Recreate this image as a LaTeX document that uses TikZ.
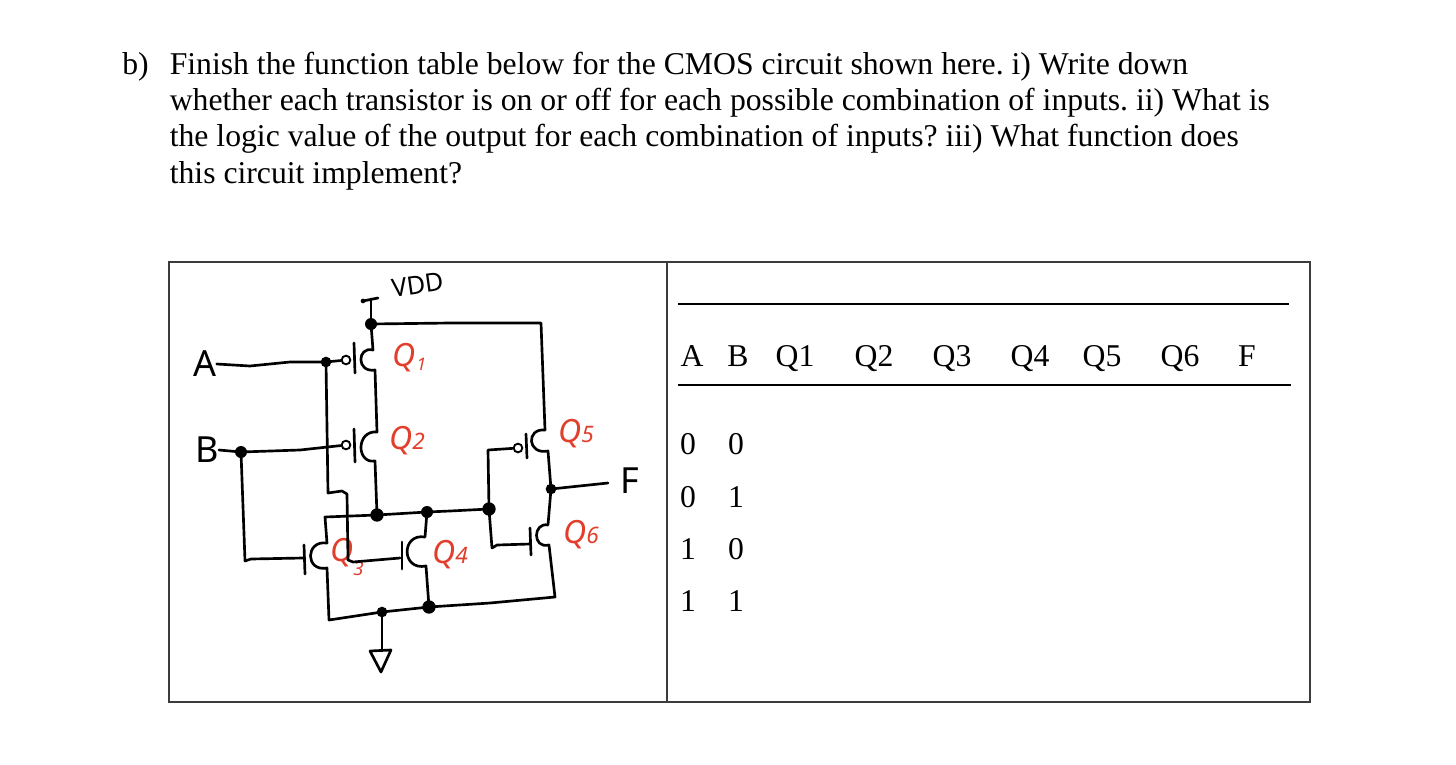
\documentclass[tikz,border=0pt]{standalone}
\usepackage{fontspec}
\setmainfont{Liberation Serif}
\newfontfamily\handfont{Noto Sans}
\definecolor{qred}{RGB}{226,62,44}
\definecolor{boxline}{RGB}{60,60,60}
\frenchspacing
\begin{document}
\begin{tikzpicture}[x=0.75pt,y=-0.75pt,>=stealth,
    wire/.style={line width=2pt,line join=round,line cap=round},
    gatebar/.style={line width=2pt,line cap=round},
    dot/.style={circle,fill=black,inner sep=0pt,minimum size=9.5pt},
    smalldot/.style={circle,fill=black,inner sep=0pt,minimum size=5pt},
    bubble/.style={circle,draw=black,line width=1.4pt,inner sep=0pt,minimum size=6.5pt},
    hand/.style={font=\handfont\fontsize{19}{21}\selectfont,inner sep=0pt},
    bighand/.style={font=\handfont\fontsize{27}{29}\selectfont,inner sep=0pt},
    qlabel/.style={font=\handfont\fontsize{24}{26}\selectfont\itshape,text=qred,inner sep=0pt},
    line/.style={anchor=base west,inner sep=0pt,font=\fontsize{23.78}{27}\selectfont},
    cell/.style={anchor=base,inner sep=0pt,font=\fontsize{23.78}{27}\selectfont}]
    \useasboundingbox (0,0) rectangle (1456,764);
    % question text
    \node[line] (qb) at (122,74) {b)};
    \node[line] (q1) at (169.5,74) {Finish the function table below for the CMOS circuit shown here. i) Write down};
    \node[line] (q2) at (169.5,110) {whether each transistor is on or off for each possible combination of inputs. ii) What is};
    \node[line] (q3) at (169.5,146) {the logic value of the output for each combination of inputs? iii) What function does};
    \node[line] (q4) at (169.5,183) {this circuit implement?};
    % table frame
    \draw[boxline,line width=0.8pt] (169,262) rectangle (1310,702);
    \draw[boxline,line width=0.8pt] (667,262) -- (667,702);
    \draw[line width=1.3pt] (678,304) -- (1289,304);
    \draw[line width=1.3pt] (678,385) -- (1291,385);
    \foreach \x/\t in {692/A,738/B,795/Q1,874/Q2,952/Q3,1030/Q4,1102/Q5,1180/Q6,1247/F}
        \node[cell] at (\x,366) {\t};
    \foreach \y/\a/\b in {454/0/0,507/0/1,559/1/0,611/1/1}
        {
            \node[cell] at (688,\y) {\a};
            \node[cell] at (736,\y) {\b};
        }
    % junctions
    \node[dot,minimum size=9pt] (nvdd) at (371,324) {};
    \node[dot,minimum size=8pt] (na) at (326,362) {};
    \node[dot,minimum size=9pt] (nb) at (241,452) {};
    \node[dot,minimum size=10pt] (nmid) at (377,515) {};
    \node[dot,minimum size=9pt] (ntop) at (427,512) {};
    \node[dot,minimum size=10pt] (nr) at (489,509) {};
    \node[dot,minimum size=8pt] (nout) at (551,489) {};
    \node[dot,minimum size=8pt] (ngnd) at (382,612) {};
    \node[dot,minimum size=10pt] (nbot) at (429,607) {};
    \node[bubble] (b1) at (346,360) {};
    \node[bubble] (b2) at (346,445) {};
    \node[bubble] (b5) at (518,448) {};
    % labels
    \node[hand,rotate=8] (vdd) at (418,285) {VDD};
    \node[bighand] (ina) at (205,364) {A};
    \node[bighand] (inb) at (207,450) {B};
    \node[bighand] (outf) at (630,481) {F};
    \node[qlabel,anchor=west] (lq1) at (392,358) {Q\kern1pt{\fontsize{13}{14}\selectfont\raisebox{-3pt}{1}}};
    \node[qlabel,anchor=west] (lq2) at (389,441) {Q{\fontsize{17}{18}\selectfont 2}};
    \node[qlabel,anchor=west] (lq3) at (330,557) {Q{\fontsize{14}{15}\selectfont\raisebox{-11pt}{3}}};
    \node[qlabel,anchor=west] (lq4) at (432,555) {Q{\fontsize{17}{18}\selectfont 4}};
    \node[qlabel,anchor=west] (lq5) at (558,434) {Q{\fontsize{17}{18}\selectfont 5}};
    \node[qlabel,anchor=west] (lq6) at (563,535) {Q{\fontsize{17}{18}\selectfont 6}};
    % supply
    \node[smalldot,minimum size=3.5pt] (tvdd) at (363,301) {};
    \draw[wire] (tvdd.center) -- (378,298);
    \draw[wire] (371,300) -- (nvdd.center);
    \draw[wire] (nvdd.center) -- (450,323) -- (541,323) -- (545,430);
    % pull-up left: Q1 and Q2
    \draw[wire] (nvdd.center) -- (373,350) .. controls (357,346) and (356,373) .. (375,370) -- (377,432)
        .. controls (356,430) and (356,464) .. (375,461) -- (nmid.center);
    \draw[gatebar] (354,343) -- (355,373);
    \draw[gatebar] (354,429) -- (355,462);
    \draw[wire] (ina.east) -- (250,366) -- (290,362) -- (na.center) -- (b1);
    \draw[wire] (inb.east) -- (nb.center) -- (300,450) -- (b2);
    % shared input wires
    \draw[wire] (na.center) -- (328,493) -- (342,491) -- (347,494) -- (348,560) -- (353,562) -- (400,558);
    \draw[wire] (nb.center) -- (245,561) -- (251,559) -- (303,558);
    % pull-down left: Q3 and Q4
    \draw[wire] (nr.center) -- (450,511) -- (ntop.center) -- (nmid.center) -- (325,517) -- (327,543)
        .. controls (305,540) and (305,572) .. (327,568) -- (329,620) -- (ngnd.center) -- (nbot.center);
    \draw[wire] (ntop.center) -- (425,537) .. controls (401,533) and (401,571) .. (426,566) -- (nbot.center);
    \draw[gatebar] (304,545) -- (305,574);
    \draw[gatebar] (402,542) -- (402,569);
    % inverter: Q5 and Q6
    \draw[wire] (545,430) .. controls (526,428) and (527,455) .. (548,451) -- (nout.center) -- (548,525)
        .. controls (533,522) and (532,549) .. (549,545) -- (555,597) -- (490,603) -- (nbot.center);
    \draw[gatebar] (526,434) -- (527,458);
    \draw[gatebar] (530,528) -- (531,555);
    \draw[wire] (b5) -- (488,450) -- (nr.center) -- (492,548) -- (497,545) -- (530,544);
    \coordinate (fend) at (608,483);
    \draw[wire] (nout.center) -- (fend);
    % ground
    \coordinate (gl) at (370,651);
    \coordinate (gr) at (391,650);
    \coordinate (gt) at (381,672);
    \draw[wire] (ngnd.center) -- (382,651);
    \draw[wire] (gl) -- (gr) -- (gt) -- cycle;
\end{tikzpicture}
\end{document}
